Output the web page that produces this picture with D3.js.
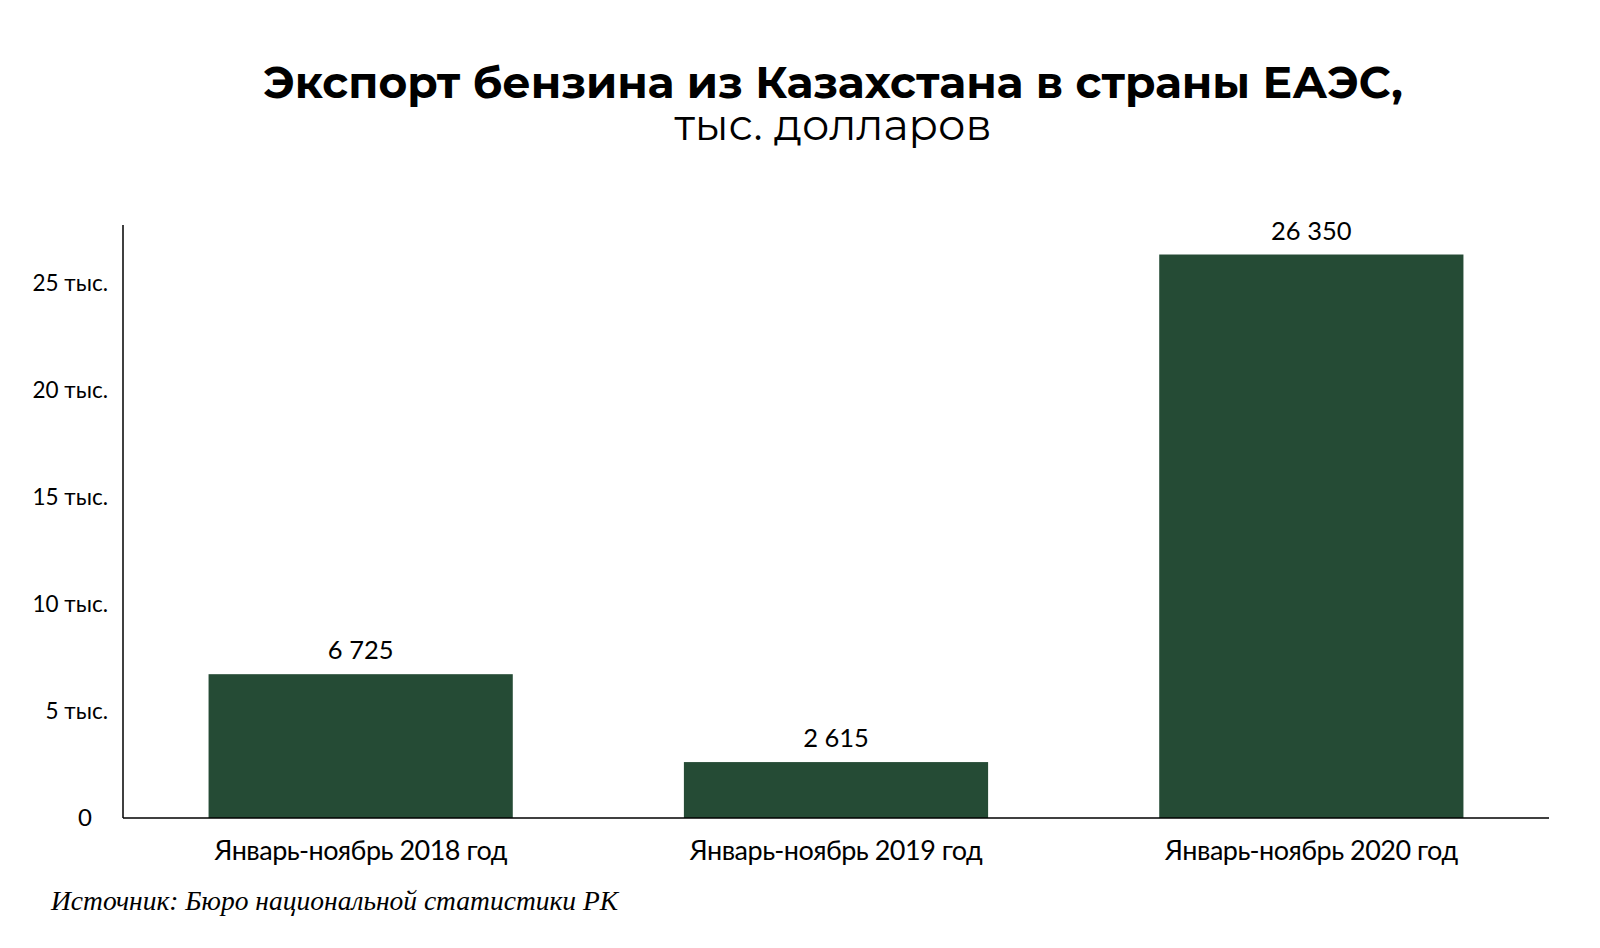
<!DOCTYPE html><html><head><meta charset="utf-8"><script src="https://cdn.jsdelivr.net/npm/d3@7"></script>
<style>body{margin:0;background:#fff}</style></head><body><svg id="c" width="1600" height="948"></svg><script>
const categories=["Январь-ноябрь 2018 год","Январь-ноябрь 2019 год","Январь-ноябрь 2020 год"];
const values=[6725,2615,26350];
const valueLabels=["6 725","2 615","26 350"];
const tickValues=[0,5000,10000,15000,20000,25000];
const tickLabels=["0","5 тыс.","10 тыс.","15 тыс.","20 тыс.","25 тыс."];
const svg=d3.select("#c");
const x=d3.scaleBand().domain(categories).range([123,1549]).paddingInner(0.36).paddingOuter(0.18);
const y=d3.scaleLinear().domain([0,27730]).range([818,225]);
svg.append("text").attr("x",833).attr("y",98).attr("text-anchor","middle").attr("font-family","Montserrat, 'Noto Sans', sans-serif").attr("font-weight",700).attr("font-size",44).attr("fill","#000").text("Экспорт бензина из Казахстана в страны ЕАЭС,");
svg.append("text").attr("x",833).attr("y",140).attr("text-anchor","middle").attr("font-family","Montserrat, 'Noto Sans', sans-serif").attr("font-size",43).attr("fill","#000").text("тыс. долларов");
svg.selectAll(".b").data(values).join("rect").attr("x",(d,i)=>x(categories[i])).attr("width",x.bandwidth()).attr("y",d=>y(d)).attr("height",d=>y(0)-y(d)).attr("fill","#254b35");
svg.selectAll(".v").data(values).join("text").attr("x",(d,i)=>x(categories[i])+x.bandwidth()/2).attr("y",d=>y(d)-15).attr("text-anchor","middle").attr("font-family","Lato, sans-serif").attr("font-size",25.5).text((d,i)=>valueLabels[i]);
svg.append("line").attr("x1",123).attr("x2",123).attr("y1",225).attr("y2",818).attr("stroke","#000").attr("stroke-width",1.5);
svg.append("line").attr("x1",123).attr("x2",1549).attr("y1",818).attr("y2",818).attr("stroke","#000").attr("stroke-width",1.5);
svg.selectAll(".t").data(tickValues).join("text").attr("x",(d,i)=>i==0?92:108).attr("y",d=>y(d)+8).attr("text-anchor","end").attr("font-family","Lato, sans-serif").attr("font-size",(d,i)=>i==0?24:22.5).text((d,i)=>tickLabels[i]);
svg.selectAll(".c").data(categories).join("text").attr("x",d=>x(d)+x.bandwidth()/2).attr("y",860).attr("text-anchor","middle").attr("font-family","Lato, sans-serif").attr("font-size",27).attr("letter-spacing","-0.5").text(d=>d);
svg.append("text").attr("x",51).attr("y",910).attr("font-family","'Liberation Serif', serif").attr("font-style","italic").attr("font-size",27.5).text("Источник: Бюро национальной статистики РК");
</script></body></html>
